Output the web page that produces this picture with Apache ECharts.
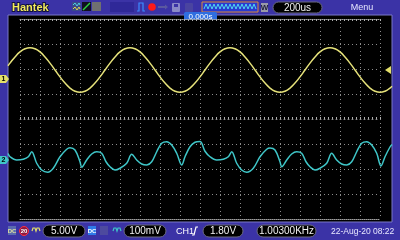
<!DOCTYPE html>
<html><head><meta charset="utf-8">
<script src="https://cdn.jsdelivr.net/npm/echarts@6/dist/echarts.min.js"></script>
<style>html,body{margin:0;padding:0;background:#3b33a6;overflow:hidden}#c{width:400px;height:240px}</style>
</head><body><div id="c"></div>
<script>
// CH1 (yellow) samples: time in µs relative to trigger, value in volts
const ch1Times = [-1920,-1900,-1850,-1800,-1750,-1700,-1650,-1600,-1550,-1500,-1450,-1400,-1350,-1300,-1250,-1200,-1150,-1100,-1050,-1000,-950,-900,-850,-800,-750,-700,-650,-600,-550,-500,-450,-400,-350,-300,-250,-200,-150,-100,-50,0,50,100,150,200,250,300,350,400,450,500,550,600,650,700,750,800,850,900,950,1000,1050,1100,1150,1200,1250,1300,1350,1400,1450,1500,1550,1600,1650,1700,1750,1800,1850,1900,1920];
const ch1Volts = [2.64,3.18,4.42,5.41,6.04,6.26,6.04,5.41,4.42,3.18,1.80,0.42,-0.82,-1.81,-2.44,-2.66,-2.44,-1.81,-0.82,0.42,1.80,3.18,4.42,5.41,6.04,6.26,6.04,5.41,4.42,3.18,1.80,0.42,-0.82,-1.81,-2.44,-2.66,-2.44,-1.81,-0.82,0.42,1.80,3.18,4.42,5.41,6.04,6.26,6.04,5.41,4.42,3.18,1.80,0.42,-0.82,-1.81,-2.44,-2.66,-2.44,-1.81,-0.82,0.42,1.80,3.18,4.42,5.41,6.04,6.26,6.04,5.41,4.42,3.18,1.80,0.42,-0.82,-1.81,-2.44,-2.66,-2.44,-1.81,-1.45];
// CH2 (cyan) samples: time in µs, value in mV
const ch2Times = [-1920,-1900,-1833,-1767,-1717,-1683,-1633,-1583,-1523,-1467,-1400,-1333,-1300,-1250,-1200,-1183,-1133,-1083,-1033,-983,-940,-900,-850,-800,-733,-683,-633,-583,-533,-483,-433,-383,-333,-283,-233,-183,-150,-100,-50,0,50,100,167,233,283,317,367,417,467,533,600,667,700,750,800,817,867,917,967,1017,1060,1100,1150,1200,1267,1317,1367,1417,1467,1517,1567,1617,1667,1717,1767,1810,1850,1900,1920];
const ch2MilliVolts = [26,13,0,3,13,33,-13,-40,-49,-33,13,43,49,40,-7,-29,0,24,33,27,-7,-27,-40,-33,-13,23,0,-16,-20,-7,33,67,73,60,27,-20,13,53,71,74,35,13,0,3,13,33,-13,-40,-49,-33,13,43,48,40,-7,-27,0,24,33,27,-7,-27,-40,-33,-13,27,0,-16,-20,-7,33,67,73,60,27,-24,13,52,62];
// Screen settings
const timePerDivUs = 200, ch1VoltsPerDiv = 5, ch2MvPerDiv = 100;

const ch1Data = ch1Times.map((t, i) => [t, ch1Volts[i]]);
const ch2Data = ch2Times.map((t, i) => [t, ch2MilliVolts[i]]);

const chart = echarts.init(document.getElementById('c'), null, {renderer: 'canvas'});
const FONT = 'Liberation Sans, Arial, sans-serif';
const dotStyle = {color: '#8c8c8c', width: 1, type: [1, 3]};
const denseStyle = {color: '#a0a0a0', width: 1, type: [1, 1]};
const tickStyle = {color: '#b0b0b0', width: 1};

function pill(x, y, w, h, text) {
  return {type: 'group', x: x, y: y, children: [
    {type: 'rect', shape: {x: 0, y: 0, width: w, height: h, r: h / 2}, style: {fill: '#000', stroke: '#6a6a80', lineWidth: 1}},
    {type: 'text', x: w / 2, y: h / 2 + 0.5, style: {text: text, fill: '#f2f2f2', font: '10px ' + FONT, align: 'center', verticalAlign: 'middle'}}
  ]};
}
function hiddenAxis(extra) {
  return Object.assign({type: 'value', axisLabel: {show: false}, splitLine: {show: false}}, extra);
}

const option = {
  backgroundColor: '#3b33a6',
  animation: false,
  grid: [
    {left: 8, right: 8, top: 15, bottom: 18, show: true, backgroundColor: '#000', borderColor: '#7a78c8', borderWidth: 1},
    {left: 20, right: 20, top: 19, bottom: 21, show: false},
    {left: 20, right: 20, top: 19, bottom: 21, show: false}
  ],
  xAxis: [
    {gridIndex: 0, type: 'value', min: -1920, max: 1920, show: false},
    // reticle: vertical dotted lines + dense bottom edge
    hiddenAxis({gridIndex: 1, min: -1800, max: 1800, interval: timePerDivUs, position: 'bottom',
      splitLine: {show: true, lineStyle: dotStyle},
      axisLine: {show: true, onZero: false, lineStyle: denseStyle},
      axisTick: {show: false}}),
    // dense top edge
    hiddenAxis({gridIndex: 1, min: -1800, max: 1800, interval: timePerDivUs, position: 'top',
      axisLine: {show: true, onZero: false, lineStyle: denseStyle},
      axisTick: {show: false}}),
    // centre horizontal line with cross ticks
    hiddenAxis({gridIndex: 2, min: -1800, max: 1800, interval: timePerDivUs, position: 'bottom',
      axisLine: {show: true, onZero: true, lineStyle: dotStyle},
      axisTick: {show: true, inside: true, length: 2, lineStyle: tickStyle},
      minorTick: {show: true, splitNumber: 5, length: 2, lineStyle: tickStyle}}),
    hiddenAxis({gridIndex: 2, min: -1800, max: 1800, interval: timePerDivUs, position: 'top',
      axisLine: {show: false, onZero: true},
      axisTick: {show: true, inside: true, length: 2, lineStyle: tickStyle},
      minorTick: {show: true, splitNumber: 5, length: 2, lineStyle: tickStyle}})
  ],
  yAxis: [
    {gridIndex: 0, type: 'value', min: -28.6, max: 12.8, show: false},
    {gridIndex: 0, type: 'value', min: -248, max: 580, show: false},
    hiddenAxis({gridIndex: 1, min: -4, max: 4, interval: 1,
      splitLine: {show: true, lineStyle: dotStyle},
      axisLine: {show: false}, axisTick: {show: false}}),
    hiddenAxis({gridIndex: 2, min: -4, max: 4, interval: 1, show: false})
  ],
  series: [
    {name: 'CH1', type: 'line', xAxisIndex: 0, yAxisIndex: 0, data: ch1Data, smooth: 0.5, showSymbol: false,
      lineStyle: {color: '#e6e27a', width: 1.5}, z: 5},
    {name: 'CH2', type: 'line', xAxisIndex: 0, yAxisIndex: 1, data: ch2Data, smooth: 0.35, showSymbol: false,
      lineStyle: {color: '#3fc6c8', width: 1.5}, z: 5}
  ],
  graphic: [
    // top bar
    {type: 'text', x: 12, y: 2, style: {text: 'Hantek', fill: '#f2ea5c', stroke: '#101040', lineWidth: 2, font: 'bold 11px ' + FONT}},
    {type: 'rect', shape: {x: 72, y: 2, width: 9, height: 9}, style: {fill: '#3a4a8a'}},
    {type: 'polyline', shape: {points: [[73,5],[75,3],[77,6],[79,3],[80,5]]}, style: {stroke: '#4fd0e0', fill: null, lineWidth: 1}},
    {type: 'polyline', shape: {points: [[73,9],[75,7],[77,10],[79,7],[80,9]]}, style: {stroke: '#e0d050', fill: null, lineWidth: 1}},
    {type: 'rect', shape: {x: 82, y: 2, width: 9, height: 9}, style: {fill: '#101020'}},
    {type: 'line', shape: {x1: 83, y1: 10, x2: 90, y2: 3}, style: {stroke: '#30d040', lineWidth: 1.5}},
    {type: 'rect', shape: {x: 92, y: 2, width: 9, height: 9}, style: {fill: '#707070'}},
    {type: 'rect', shape: {x: 110, y: 2, width: 24, height: 10}, style: {fill: '#2f2898'}},
    {type: 'polyline', shape: {points: [[137,11],[139,11],[139,3],[143,3],[143,11],[145,11]]}, style: {stroke: '#3b8cff', fill: null, lineWidth: 1.2}},
    {type: 'circle', shape: {cx: 152, cy: 7, r: 3.8}, style: {fill: '#ff1a1a'}},
    {type: 'polygon', shape: {points: [[158,6],[165,6],[165,4.5],[168,7],[165,9.5],[165,8],[158,8]]}, style: {fill: '#5a58a0'}},
    {type: 'rect', shape: {x: 172, y: 3, width: 8, height: 9, r: 1}, style: {fill: '#8a8ac8'}},
    {type: 'rect', shape: {x: 174, y: 4, width: 4, height: 3}, style: {fill: '#3b33a6'}},
    {type: 'rect', shape: {x: 185, y: 3, width: 8, height: 9, r: 1}, style: {fill: '#4a44a0'}},
    {type: 'rect', shape: {x: 202, y: 2, width: 56, height: 10}, style: {fill: '#2a3ad0', stroke: '#d98a3a', lineWidth: 1}},
    {type: 'polyline', shape: {points: [[204,9],[206,4],[208,9],[210,4],[212,9],[214,4],[216,9],[218,4],[220,9],[222,4],[224,9],[226,4],[228,9],[230,4],[232,9],[234,4],[236,9],[238,4],[240,9],[242,4],[244,9],[246,4],[248,9],[250,4],[252,9],[254,4],[256,9]]}, style: {stroke: '#50d8f0', fill: null, lineWidth: 1}},
    {type: 'rect', shape: {x: 261, y: 3, width: 7, height: 9}, style: {fill: '#9a9aa8'}},
    {type: 'text', x: 264.5, y: 7.5, style: {text: 'W', fill: '#202040', font: 'bold 8px ' + FONT, align: 'center', verticalAlign: 'middle'}},
    pill(273, 2, 49, 11, '200us'),
    {type: 'text', x: 362, y: 7.5, style: {text: 'Menu', fill: '#e8e8ff', font: '9px ' + FONT, align: 'center', verticalAlign: 'middle'}},
    // trigger position label
    {type: 'rect', shape: {x: 184, y: 12, width: 33, height: 8, r: 1.5}, style: {fill: '#2f6ee0'}},
    {type: 'text', x: 200.5, y: 16.5, style: {text: '0.000s', fill: '#ffffff', font: '8px ' + FONT, align: 'center', verticalAlign: 'middle'}},
    // channel markers
    {type: 'polygon', shape: {points: [[0,75],[6,75],[9,79],[6,83],[0,83]]}, style: {fill: '#e4e06a'}},
    {type: 'text', x: 3.5, y: 79.5, style: {text: '1', fill: '#000', font: 'bold 7px ' + FONT, align: 'center', verticalAlign: 'middle'}},
    {type: 'polygon', shape: {points: [[0,156],[6,156],[9,160],[6,164],[0,164]]}, style: {fill: '#3fc6c8'}},
    {type: 'text', x: 3.5, y: 160.5, style: {text: '2', fill: '#000', font: 'bold 7px ' + FONT, align: 'center', verticalAlign: 'middle'}},
    {type: 'polygon', shape: {points: [[391,66],[391,74],[385,70]]}, style: {fill: '#e4e06a'}},
    // bottom bar
    {type: 'rect', shape: {x: 8, y: 226, width: 8, height: 9}, style: {fill: '#5a6ab0'}},
    {type: 'text', x: 12, y: 231, style: {text: 'DC', fill: '#e0e0a0', font: 'bold 6px ' + FONT, align: 'center', verticalAlign: 'middle'}},
    {type: 'circle', shape: {cx: 24, cy: 231, r: 4.5}, style: {fill: '#8a1a40', stroke: '#ff3040', lineWidth: 1}},
    {type: 'text', x: 24, y: 231.5, style: {text: '20', fill: '#ffffff', font: 'bold 6px ' + FONT, align: 'center', verticalAlign: 'middle'}},
    {type: 'polyline', shape: {points: [[32,231],[33,228],[35,228],[36,231],[37,228],[39,228],[40,231]]}, style: {stroke: '#e4e06a', fill: null, lineWidth: 1.2}},
    pill(43, 225, 42, 12, '5.00V'),
    {type: 'rect', shape: {x: 88, y: 226, width: 8, height: 9}, style: {fill: '#2f7ae8'}},
    {type: 'text', x: 92, y: 231, style: {text: 'DC', fill: '#ffffff', font: 'bold 6px ' + FONT, align: 'center', verticalAlign: 'middle'}},
    {type: 'rect', shape: {x: 100, y: 226, width: 8, height: 9}, style: {fill: '#4d4a9e'}},
    {type: 'polyline', shape: {points: [[113,231],[114,228],[116,228],[117,231],[118,228],[120,228],[121,231]]}, style: {stroke: '#3fc6c8', fill: null, lineWidth: 1.2}},
    pill(124, 225, 42, 12, '100mV'),
    {type: 'text', x: 176, y: 231.5, style: {text: 'CH1', fill: '#ffffff', font: '9px ' + FONT, verticalAlign: 'middle'}},
    {type: 'polyline', shape: {points: [[192,235],[194,235],[196,227],[198,227]]}, style: {stroke: '#ffffff', fill: null, lineWidth: 1.2}},
    pill(203, 225, 40, 12, '1.80V'),
    pill(257, 225, 59, 12, '1.00300KHz'),
    {type: 'text', x: 331, y: 231.5, style: {text: '22-Aug-20 08:22', fill: '#e8e8ff', font: '8.5px ' + FONT, verticalAlign: 'middle'}}
  ]
};
chart.setOption(option);
</script>
</body></html>
